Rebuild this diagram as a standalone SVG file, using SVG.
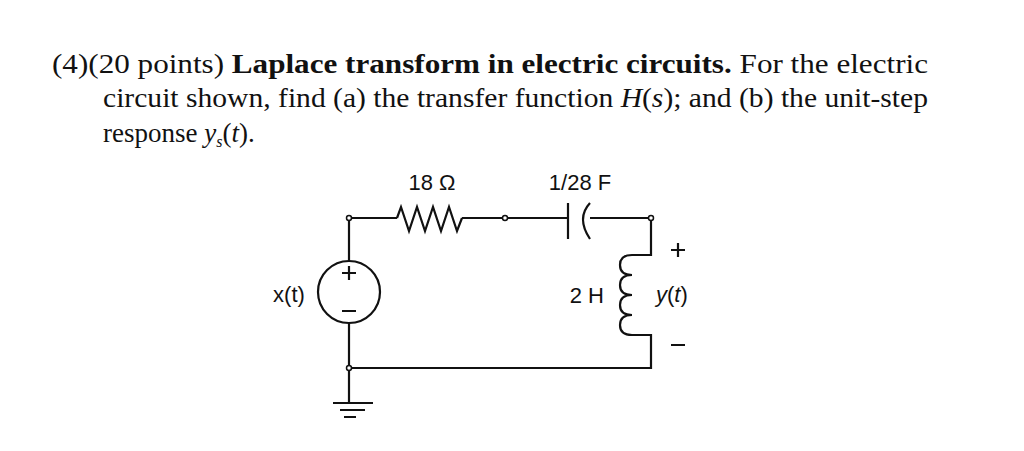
<svg xmlns="http://www.w3.org/2000/svg" width="1024" height="451" viewBox="0 0 1024 451">
<style>
.t{font-family:"Liberation Serif",serif;font-size:27px;fill:#111}
.l{font-family:"Liberation Sans",Arial,sans-serif;font-size:22px;fill:#111}
.w{stroke:#111;stroke-width:2.2;fill:none}
.d{fill:#fff;stroke:#111;stroke-width:1.5}
</style>
<rect width="1024" height="451" fill="#fff"/>
<text class="t" x="52" y="73" textLength="876" lengthAdjust="spacingAndGlyphs">(4)(20 points) <tspan font-weight="bold">Laplace transform in electric circuits.</tspan> For the electric</text>
<text class="t" x="103" y="107" textLength="825" lengthAdjust="spacingAndGlyphs">circuit shown, find (a) the transfer function <tspan font-style="italic">H</tspan>(<tspan font-style="italic">s</tspan>); and (b) the unit-step</text>
<text class="t" x="103" y="142">response <tspan font-style="italic">y</tspan><tspan font-style="italic" font-size="16" dy="5">s</tspan><tspan dy="-5">(</tspan><tspan font-style="italic">t</tspan>).</text>
<g id="connectors">
<path class="w" d="M349 218V261M349 323V368M349 218H397M462 218H568M590 218H651V255H632M632 335H651V368H349M349 368V403"/>
</g>
<g id="resistor"><path class="w" d="M397 218L401 207L409 231L417 207L425 231L433 207L441 231L449 207L457 231L462 218"/><text class="l" x="432" y="190" text-anchor="middle">18 Ω</text></g>
<g id="capacitor"><path class="w" d="M568 203V239M590 203Q576 218 590 239"/><text class="l" x="580" y="190" text-anchor="middle">1/28 F</text></g>
<g id="inductor"><path class="w" d="M632 255Q620 255 620 265Q620 275 632 275Q620 275 620 285Q620 295 632 295Q620 295 620 305Q620 315 632 315Q620 315 620 325Q620 335 632 335"/><text class="l" x="604" y="303" text-anchor="end">2 H</text></g>
<g id="source"><circle class="w" cx="349" cy="292" r="31"/><path class="w" d="M342 273H356M349 266V280M342 311H356"/><text class="l" x="289" y="302" text-anchor="middle">x(t)</text></g>
<g id="ground"><path class="w" d="M333 403H373M340 410H365M344 417H356"/></g>
<g id="output"><path class="w" d="M671 250H685M678 243V257M671 345H685"/><text class="l" x="656" y="302"><tspan font-style="italic">y</tspan>(<tspan font-style="italic">t</tspan>)</text></g>
<g id="nodes"><circle class="d" cx="349" cy="218" r="2.5"/><circle class="d" cx="505" cy="218" r="2.5"/><circle class="d" cx="651" cy="218" r="2.5"/><circle class="d" cx="349" cy="368" r="2.5"/></g>
</svg>
